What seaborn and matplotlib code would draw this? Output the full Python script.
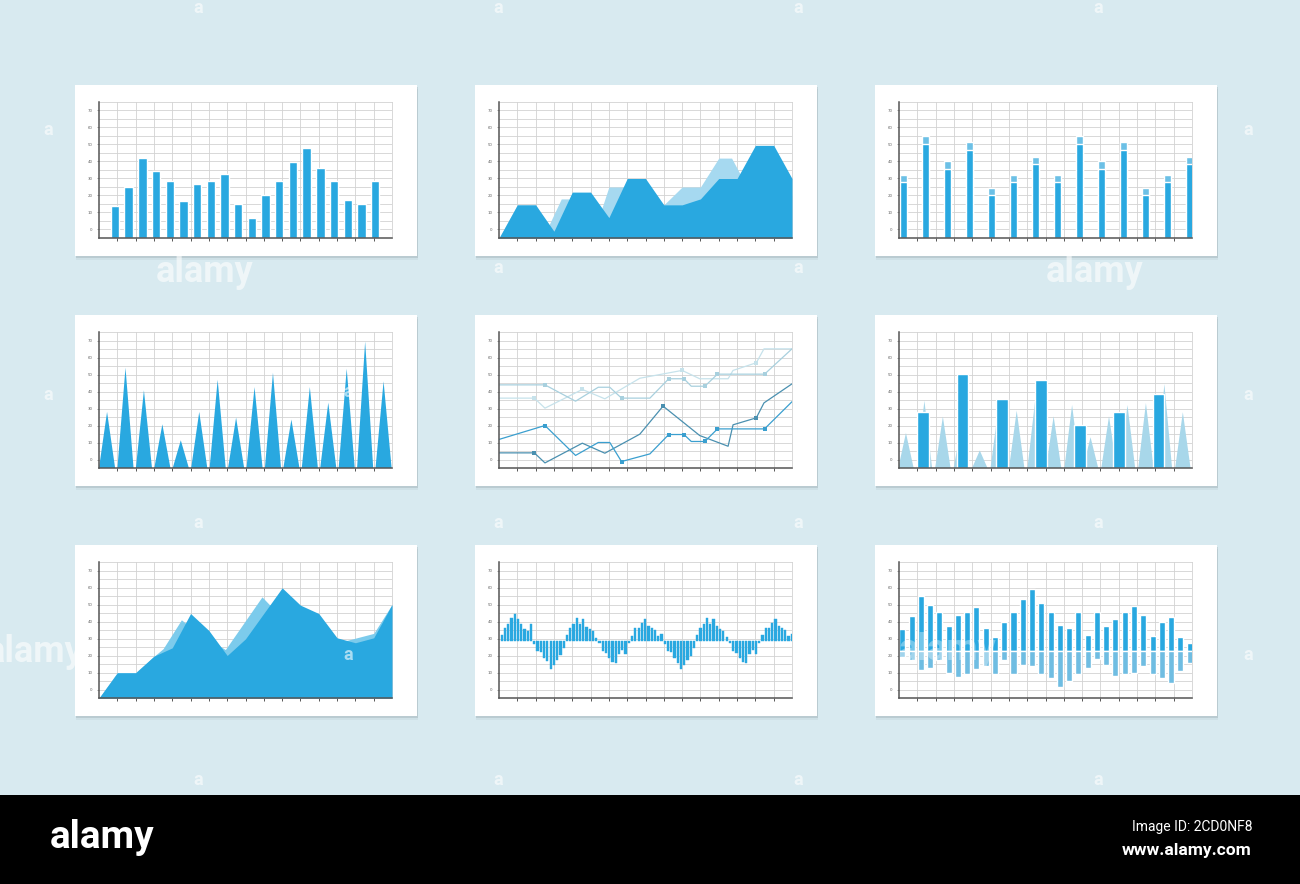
"""
Nine small blue chart cards on a light blue board (stock infographic).
Run: python plot.py
"""
import matplotlib
matplotlib.use('Agg')
import matplotlib.pyplot as plt
from matplotlib.patches import Rectangle
import numpy as np
import pandas as pd
import seaborn as sns

W, H = 1300, 884
BG = '#d8eaf0'
BLUE = '#29a8e0'
GRID = '#d2d2d2'
LOGO = ['Roboto', 'DejaVu Sans']

# ── Data ─────────────────────────────────────────────────────────────────────
y_ticks = [0, 10, 20, 30, 40, 50, 60, 70]

# 1: simple bars
bars1 = [13.9, 25.0, 42.0, 34.4, 28.5, 16.8, 26.6, 28.5, 32.9, 14.9,
         7.0, 20.5, 28.5, 39.9, 48.1, 36.0, 28.5, 17.4, 14.9, 28.5]

# 2: two stepped areas
area2_dark = [-5, 14.5, 14.5, -1, 22, 22, 7, 30, 30, 14.5, 14.5, 18, 30, 30, 49.5, 49.5, 30]
area2_light_x = [0, 1, 2, 2.7, 3.4, 3.8, 4.5, 5.6, 6.0, 6.8, 7.5, 9.0, 10.0, 11.0, 12.0, 12.7, 13.3, 14, 16]
area2_light_y = [-5, 14.5, 14.5, 2, 18, 18, 10, 12, 25, 25, 20, 14.5, 25, 25, 42, 42, 30, 30, 20]

# 3: bars with a lighter cap
bars3_base = [28.0, 50.4, 35.8, 46.9, 20.1, 28.0, 38.3, 28.0, 50.4, 35.8, 46.9, 20.1, 28.0, 38.3]
bars3_cap = [32.3, 54.8, 40.1, 51.4, 24.6, 32.3, 42.8, 32.3, 54.8, 40.1, 51.4, 24.6, 32.3, 42.8]

# 4: spikes
spikes4 = [28, 54, 40.7, 20.7, 11.3, 28, 46.9, 24.6, 42.6, 51, 23.5, 42.6, 33.4, 53.4, 69.4, 46]

# 5: four lines (x, y, marked points)
l5_d1_x = [0, 2.51, 4.18, 5.42, 6.05, 6.69, 8.24, 9.27, 10.1, 10.5, 11.24, 11.93, 14.5, 16]
l5_d1_y = [11.8, 20, 2.4, 10, 10, -1.2, 3.3, 14.7, 14.7, 10.6, 10.6, 18, 18, 34]
l5_d1_m = [0, 1, 0, 0, 0, 1, 0, 1, 1, 0, 1, 1, 1, 0]
l5_d2_x = [0, 1.93, 2.51, 4.55, 5.78, 7.69, 8.96, 10.96, 12.51, 12.78, 14.05, 14.47, 16]
l5_d2_y = [3.9, 3.9, -2, 9.6, 3.7, 14.9, 31.4, 14.1, 7.8, 20.4, 24.5, 33.3, 44.5]
l5_d2_m = [0, 1, 0, 0, 0, 0, 1, 0, 0, 0, 1, 0, 0]
l5_la_x = [0, 2.51, 4.18, 5.42, 6.05, 6.69, 8.24, 9.27, 10.1, 10.5, 11.24, 11.93, 14.5, 16]
l5_la_y = [43.9, 43.9, 34.3, 42.5, 42.5, 36.1, 36.1, 47.5, 47.5, 43.1, 43.1, 50.2, 50.2, 65.1]
l5_la_m = [0, 1, 0, 0, 0, 1, 0, 1, 1, 0, 1, 1, 1, 0]
l5_lb_x = [0, 1.93, 2.51, 4.55, 5.78, 7.69, 10.0, 10.96, 12.51, 12.78, 14.05, 14.47, 16]
l5_lb_y = [36.1, 36.1, 30.2, 41.2, 35.7, 47.8, 52.4, 47.5, 47.5, 52.4, 56.9, 65.1, 65.1]
l5_lb_m = [0, 1, 0, 1, 0, 0, 1, 0, 0, 0, 1, 0, 0]

# 6: light spikes behind dark bars
spikes6 = [15.6, 34.6, 25.2, 20, 5.3, 30, 28.7, 35, 25.4, 32.1, 13.1, 25.4, 32, 33.2, 44.4, 27.8]
bars6 = [27.8, 50.3, 35.6, 46.9, 20.3, 27.8, 38.5]

# 7: two mountain areas
area7_dark = [-5, 9.8, 9.8, 19.6, 24.5, 44.7, 34.7, 20, 29.8, 44.8, 59.8, 49.6, 44.7, 30.4, 27.5, 30.4, 50]
area7_light_x = [0, 1, 2, 3, 3.5, 4.5, 5.2, 6.9, 8.9, 9.3, 12.9, 13.4, 15, 16]
area7_light_y = [-5, 10, 10, 19.5, 24, 41, 35, 23.5, 54.5, 50, 30, 28.5, 33, 50]

# 8: oscillating thin bars around a baseline
base8 = 28.5
wave8 = [31.8, 36.3, 38.8, 42.2, 44.7, 41.2, 38.6, 35.3, 34.3, 38.8,
         26.5, 22.5, 22.0, 18.6, 16.7, 11.8, 14.7, 17.6, 20.4, 24.5,
         31.8, 36.3, 38.8, 42.2, 38.8, 41.2, 36.9, 35.7, 34.7, 30.4,
         27.1, 22.5, 21.6, 18.6, 16.1, 15.7, 20.6, 23.1, 21.0, 27.1,
         31.4, 36.3, 36.3, 39.2, 41.2, 37.6, 36.1, 34.9, 31.4, 32.7,
         26.5, 22.5, 22.0, 18.6, 15.7, 11.8, 14.7, 17.6, 20.0, 24.5,
         31.8, 36.3, 38.8, 42.2, 38.8, 41.2, 37.3, 35.7, 34.3, 31.0,
         27.1, 22.5, 21.6, 18.6, 16.1, 15.7, 20.6, 23.1, 21.0, 27.1,
         31.8, 36.3, 36.3, 39.2, 41.2, 37.6, 36.1, 34.9, 31.4, 32.7]

# 9: range bars split at a baseline
base9 = 22.5
top9 = [35.3, 43.1, 54.9, 49.6, 45.5, 37.3, 44.1, 45.5, 48.4, 35.9, 30.8, 39.6, 45.5, 53.3, 59.2, 50.6,
        45.5, 37.8, 35.9, 45.5, 31.8, 45.5, 37.3, 41.2, 45.5, 49.0, 43.7, 31.4, 39.6, 42.4, 31.0, 27.5]
bot9 = [19.2, 17.6, 11.4, 12.7, 17.6, 9.8, 7.5, 9.4, 11.8, 14.1, 9.4, 17.1, 9.4, 14.7, 13.7, 9.4,
        6.5, 1.6, 4.9, 9.4, 12.4, 18.0, 14.7, 7.8, 9.4, 9.8, 14.1, 9.4, 6.9, 3.9, 10.8, 15.3]

# ── Style ────────────────────────────────────────────────────────────────────
sns.set_theme(style='white')
plt.rcParams['font.family'] = ['DejaVu Sans']

fig = plt.figure(figsize=(13, 8.84), dpi=100)
fig.patch.set_facecolor(BG)


def frac(x, y, w, h):
    return [x / W, 1 - (y + h) / H, w / W, h / H]


def make_card(col, row):
    cx, cy = 75 + 400 * col, 85 + 230 * row
    for off, a in [(4, 0.10), (2, 0.25)]:
        fig.add_artist(Rectangle(frac(cx + 1, cy + off, 342, 171)[:2], 342 / W, 171 / H,
                                 transform=fig.transFigure, facecolor='#7f8f95',
                                 alpha=a, edgecolor='none', zorder=-3))
    fig.add_artist(Rectangle(frac(cx, cy, 342, 171)[:2], 342 / W, 171 / H,
                             transform=fig.transFigure, facecolor='white',
                             edgecolor='none', zorder=-2))
    ax = fig.add_axes(frac(cx + 24, cy + 17, 293, 136))
    ax.set_facecolor('white')
    ax.set_xlim(0, 16)
    ax.set_ylim(-5, 75)
    ax.set_xticks(range(1, 16))
    ax.set_xticklabels([])
    ax.set_yticks(y_ticks)
    ax.set_yticklabels([str(v) for v in y_ticks], fontsize=2.8, color='#666666')
    ax.tick_params(axis='x', length=2.5, width=0.7, color='#555555', direction='out', bottom=True)
    ax.tick_params(axis='y', length=1.5, width=0.5, color='#777777', pad=3, left=True)
    for x in range(1, 16):
        ax.axvline(x, color=GRID, lw=0.6, zorder=0)
    for y in np.arange(0, 75, 5):
        ax.axhline(y, color=GRID, lw=0.6, zorder=0)
    for s in ['top', 'right']:
        ax.spines[s].set_color(GRID)
        ax.spines[s].set_linewidth(0.6)
    for s in ['left', 'bottom']:
        ax.spines[s].set_color('#555555')
        ax.spines[s].set_linewidth(1.1)
        ax.spines[s].set_zorder(5)
    return ax


def spikes(ax, centers, heights, half, color):
    for c, h in zip(centers, heights):
        ax.fill([c - half, c, c + half], [-5, h, -5], color=color, lw=0, zorder=2)


# ── Row 1 ────────────────────────────────────────────────────────────────────
ax = make_card(0, 0)
x1 = np.linspace(0.87, 15.08, len(bars1))
ax.bar(x1, np.array(bars1) + 5, bottom=-5, width=0.46, color=BLUE, zorder=2)

ax = make_card(1, 0)
ax.fill_between(area2_light_x, area2_light_y, -5, color='#a6d9f0', lw=0, zorder=2)
ax.fill_between(range(len(area2_dark)), area2_dark, -5, color=BLUE, lw=0, zorder=3)

ax = make_card(2, 0)
x3 = np.linspace(0.24, 15.85, len(bars3_base))
ax.bar(x3, np.array(bars3_cap) + 5, bottom=-5, width=0.36, color='#6cc0e6', zorder=2)
ax.bar(x3, np.array(bars3_base) + 5, bottom=-5, width=0.36, color=BLUE, zorder=3)

# ── Row 2 ────────────────────────────────────────────────────────────────────
ax = make_card(0, 1)
spikes(ax, np.linspace(0.44, 15.54, len(spikes4)), spikes4, 0.44, BLUE)

ax = make_card(1, 1)
lines5 = [(l5_lb_x, l5_lb_y, l5_lb_m, '#c6e2eb'),
          (l5_la_x, l5_la_y, l5_la_m, '#a8d0de'),
          (l5_d2_x, l5_d2_y, l5_d2_m, '#4a90b0'),
          (l5_d1_x, l5_d1_y, l5_d1_m, '#3a9fcf')]
for lx, ly, lm, col in lines5:
    df = pd.DataFrame({'x': lx, 'y': ly, 'm': lm})
    sns.lineplot(data=df, x='x', y='y', sort=False, estimator=None, color=col,
                 lw=0.9, ax=ax, zorder=3)
    sns.scatterplot(data=df[df['m'] == 1], x='x', y='y', color=col, s=9,
                    marker='s', linewidth=0, ax=ax, zorder=4)
ax.set_xlabel('')
ax.set_ylabel('')

ax = make_card(2, 1)
spikes(ax, np.linspace(0.38, 15.5, len(spikes6)), spikes6, 0.42, '#a8d7ea')
x6 = 1.33 + 2.14 * np.arange(len(bars6))
ax.bar(x6, np.array(bars6) + 5, bottom=-5, width=0.64, color=BLUE, zorder=3)

# ── Row 3 ────────────────────────────────────────────────────────────────────
ax = make_card(0, 2)
ax.fill_between(area7_light_x, area7_light_y, -5, color='#7ccbec', lw=0, zorder=2)
ax.fill_between(range(len(area7_dark)), area7_dark, -5, color=BLUE, lw=0, zorder=3)

ax = make_card(1, 2)
x8 = np.linspace(0.15, 15.99, len(wave8))
ax.bar(x8, np.array(wave8) - base8, bottom=base8, width=0.12, color=BLUE,
       edgecolor=BLUE, linewidth=0.3, zorder=3)

ax = make_card(2, 2)
x9 = np.linspace(0.18, 15.87, len(top9))
ax.bar(x9, np.array(top9) - base9, bottom=base9, width=0.33, color=BLUE, zorder=3)
ax.bar(x9, base9 - np.array(bot9), bottom=bot9, width=0.33, color='#6fbde2', zorder=3)

# ── Watermarks ───────────────────────────────────────────────────────────────
small_a = [(198, 8), (498, 8), (798, 8), (1098, 8), (48, 130), (1248, 130),
           (498, 268), (798, 268), (48, 395), (348, 392), (1248, 395),
           (198, 523), (498, 523), (798, 523), (1098, 523),
           (348, 655), (1248, 655), (198, 780), (498, 780), (798, 780), (1098, 780)]
for x, y in small_a:
    fig.text(x / W, 1 - y / H, 'a', color='white', alpha=0.6, fontsize=13,
             fontweight='bold', family=LOGO, ha='center', va='center', zorder=6)
# big marks lying on the board, partly under the cards
for x, y in [(205, 272), (1095, 272)]:
    fig.text(x / W, 1 - y / H, 'alamy', color='white', alpha=0.6, fontsize=26,
             fontweight='bold', family=LOGO, ha='center', va='center', zorder=-2.5)
fig.text(83 / W, 1 - 652 / H, 'alamy', color='white', alpha=0.6, fontsize=26,
         fontweight='bold', family=LOGO, ha='right', va='center', zorder=-2.5)
fig.text(899 / W, 1 - 650 / H, 'alamy', color='white', alpha=0.35, fontsize=26,
         fontweight='bold', family=LOGO, ha='left', va='center', zorder=6)

# ── Bottom strip ─────────────────────────────────────────────────────────────
fig.add_artist(Rectangle((0, 0), 1, 89 / H, transform=fig.transFigure,
                         facecolor='black', edgecolor='none', zorder=8))
fig.text(50 / W, 1 - 838 / H, 'alamy', color='white', fontsize=28, fontweight='bold',
         family=LOGO, ha='left', va='center', zorder=9)
fig.text(1252 / W, 1 - 827 / H, 'Image ID: 2CD0NF8', color='white', fontsize=10,
         family=LOGO, ha='right', va='center', zorder=9)
fig.text(1252 / W, 1 - 851 / H, 'www.alamy.com', color='white', fontsize=12.5,
         fontweight='bold', family=LOGO, ha='right', va='center', zorder=9)

plt.savefig('out.png', dpi=100, facecolor=fig.get_facecolor())
print("Saved → out.png")
